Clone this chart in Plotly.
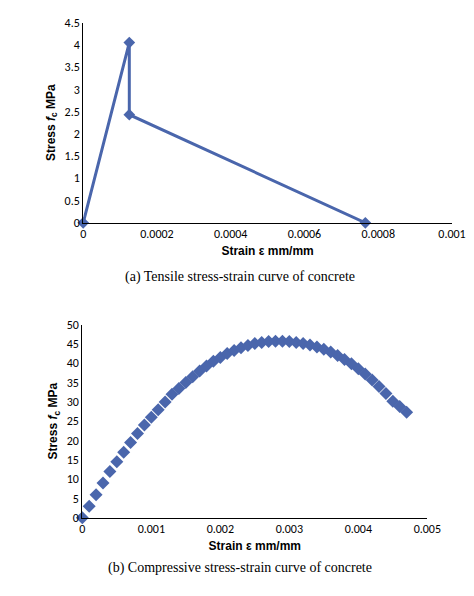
import plotly.graph_objects as go

t_strain = [0, 0.000125, 0.000125, 0.000765]
t_stress = [0, 4.05, 2.43, 0]

c_strain = [i * 0.0001 for i in range(48)]
c_stress = [0, 3, 6, 9, 12, 14.5, 17, 19.5, 21.8, 24, 26, 28, 30, 32, 33.5, 35, 36.5, 38, 39.3, 40.5,
            41.5, 42.5, 43.3, 44, 44.6, 45.1, 45.4, 45.6, 45.7, 45.7, 45.6, 45.4, 45.1, 44.7, 44.2,
            43.6, 42.9, 42, 41, 39.9, 38.6, 37.2, 35.7, 34, 32.2, 30.2, 28.8, 27.3]

col = "#4a66ac"
fig = go.Figure()
fig.add_trace(go.Scatter(x=t_strain, y=t_stress, mode="lines+markers", xaxis="x", yaxis="y", cliponaxis=False,
                         line=dict(color=col, width=3), marker=dict(symbol="diamond", size=9, color=col)))
fig.add_trace(go.Scatter(x=c_strain, y=c_stress, mode="markers", xaxis="x2", yaxis="y2", cliponaxis=False,
                         marker=dict(symbol="diamond", size=10, color=col)))

ax = dict(showgrid=False, zeroline=False, showline=True, linecolor="black", linewidth=1,
          ticks="", tickfont=dict(family="Carlito, Liberation Sans", size=12, color="black"))
ttl = dict(family="Liberation Sans", size=12, color="black")
fig.update_layout(
    width=474, height=596, margin=dict(l=0, r=0, t=0, b=0), showlegend=False,
    plot_bgcolor="white", paper_bgcolor="white",
    xaxis=dict(ax, domain=[0.158, 0.965], range=[0, 0.001], dtick=0.0002, anchor="y",
               title=dict(text="<b>Strain ε mm/mm</b>", font=ttl, standoff=6)),
    yaxis=dict(ax, domain=[0.643, 0.987], range=[0, 4.5], dtick=0.5, anchor="x",
               title=dict(text="<b>Stress <i>f</i><sub>c</sub> MPa</b>", font=ttl, standoff=6)),
    xaxis2=dict(ax, domain=[0.156, 0.911], range=[0, 0.005], dtick=0.001, anchor="y2",
                title=dict(text="<b>Strain ε mm/mm</b>", font=ttl, standoff=6)),
    yaxis2=dict(ax, domain=[0.136, 0.468], range=[0, 50], dtick=5, anchor="x2",
                title=dict(text="<b>Stress <i>f</i><sub>c</sub> MPa</b>", font=ttl, standoff=6)),
    annotations=[
        dict(text="(a) Tensile stress-strain curve of concrete", x=0.5, y=1 - 268 / 596, xref="paper",
             yref="paper", showarrow=False, font=dict(family="Liberation Serif", size=14, color="black")),
        dict(text="(b) Compressive stress-strain curve of concrete", x=0.5, y=1 - 577 / 596, xref="paper",
             yref="paper", showarrow=False, font=dict(family="Liberation Serif", size=14, color="black")),
    ],
)
fig.write_html("out.html")
